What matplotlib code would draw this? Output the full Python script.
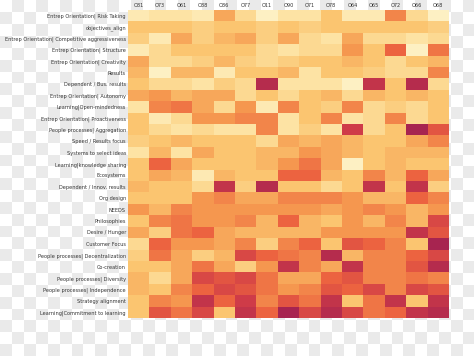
import numpy as np
import matplotlib
matplotlib.use("Agg")
import matplotlib.pyplot as plt
from matplotlib.colors import LinearSegmentedColormap

columns = ["O81", "O73", "O61", "O88", "O86", "O77", "O11", "O90",
           "O71", "O78", "O64", "O65", "O72", "O66", "O68"]

rows = [
    "Entrep Orientation| Risk Taking",
    "objectives_align",
    "Entrep Orientation| Competitive aggressiveness",
    "Entrep Orientation| Structure",
    "Entrep Orientation| Creativity",
    "Results",
    "Dependent / Bus. results",
    "Entrep Orientation| Autonomy",
    "Learning|Open-mindedness",
    "Entrep Orientation| Proactiveness",
    "People processes| Aggregation",
    "Speed / Results focus",
    "Systems to select ideas",
    "Learning|knowledge sharing",
    "Ecosystems",
    "Dependent / Innov. results",
    "Org design",
    "NEEDS",
    "Philosophies",
    "Desire / Hunger",
    "Customer Focus",
    "People processes| Decentralization",
    "Co-creation",
    "People processes| Diversity",
    "People processes| Independence",
    "Strategy alignment",
    "Learning|Commitment to learning",
]

# scores (0 = lightest, 10 = darkest)
scores = [
    [1, 1.5, 1.5, 1, 4, 2, 0.5, 1.5, 1.5, 3, 1, 1, 5, 2, 0.5],
    [3, 3, 3, 2.5, 3, 3, 2.5, 3, 2.5, 3, 3, 3, 3, 3, 2.5],
    [2.5, 1, 4, 2.5, 3.5, 4, 2.5, 4, 2, 1.5, 4, 2, 2, 1.5, 2],
    [1, 2, 3, 3, 3, 3, 2, 1.5, 2, 2, 4.5, 3, 6, 0.5, 5.5],
    [4, 2, 2, 2.5, 3.5, 2.5, 2, 2.5, 3, 3, 3.5, 3, 2, 3, 3.5],
    [3.5, 0.5, 3.5, 3.5, 1, 3, 3, 3.5, 1.5, 3, 3, 2.5, 2, 2, 5],
    [3, 2, 2, 1.5, 2.5, 2, 8.5, 1.5, 1.5, 1.5, 0.5, 8, 3, 8.5, 2],
    [4, 4.5, 3.5, 4, 4, 2, 3, 2, 3, 3.5, 2, 3.5, 3, 3.5, 3],
    [1.5, 5, 5.5, 4, 2, 4.5, 1, 5, 3, 2.5, 5, 2, 2.5, 2, 3],
    [3, 1, 2, 4.5, 4.5, 5, 5, 1.5, 3, 5, 1.5, 2, 5, 2, 3],
    [3, 2, 1.5, 2, 1.5, 1.5, 5, 1.5, 2.5, 1.5, 7.5, 2, 3, 9, 6.5],
    [2.5, 3, 3.5, 3, 3, 3, 2, 4, 3.5, 4, 3.5, 3, 3, 4, 5],
    [1.5, 3.5, 1.5, 4, 3, 3, 3.5, 3.5, 4.5, 4, 3.5, 3, 3.5, 3.5, 3.5],
    [3, 6, 4, 3, 3, 3, 3.5, 4.5, 5.5, 4, 0.5, 3, 3.5, 3, 3],
    [3, 4, 3.5, 1, 3.5, 3, 3, 6, 6, 3.5, 3, 5, 3.5, 6, 4],
    [3.5, 3, 3, 2, 8, 2.5, 8.5, 3, 3, 2, 3, 8, 3, 8, 2.5],
    [3, 3, 3, 4.5, 5, 4, 4, 5, 5, 5, 4.5, 3.5, 3.5, 6, 5],
    [4.5, 3.5, 5, 4.5, 4.5, 4.5, 4.5, 4.5, 4.5, 4, 4.5, 5, 4.5, 3.5, 4.5],
    [3, 5, 5.5, 4.5, 4.5, 5, 3.5, 6, 3.5, 3, 4.5, 3.5, 5, 3.5, 7],
    [4, 2.5, 5.5, 6, 4, 3.5, 3.5, 3.5, 3.5, 4.5, 4.5, 4.5, 4.5, 8, 6.5],
    [2, 6, 4.5, 4.5, 4, 5, 2.5, 5, 6, 3, 6.5, 6, 5, 3, 9],
    [2.5, 5.5, 4, 2.5, 3.5, 7, 6, 5.5, 5, 8.5, 3.5, 5, 5, 6, 7],
    [3, 3, 4, 5.5, 4, 2.5, 4.5, 8, 5, 4, 8, 5, 5, 6.5, 8.5],
    [3.5, 2, 4, 7, 6.5, 7, 5.5, 4, 4, 6, 6.5, 5, 5, 5.5, 5],
    [3.5, 3, 5, 6, 7, 6.5, 5.5, 4.5, 5, 6.5, 6, 7, 5, 7, 6.5],
    [3, 5, 4.5, 8, 6, 7.5, 5, 6.5, 5.5, 8, 3, 5.5, 8, 3, 8],
    [3, 6.5, 5.5, 7, 3, 8, 6, 9, 7, 8.5, 7, 5.5, 6, 8, 8.5],
]

cmap = LinearSegmentedColormap.from_list("warm", [
    (0.00, "#fef6d2"),
    (0.15, "#fde3a4"),
    (0.30, "#fbc570"),
    (0.45, "#f69850"),
    (0.60, "#ec6340"),
    (0.75, "#d03c48"),
    (0.90, "#a82550"),
    (1.00, "#7c1f55"),
])

fig = plt.figure(figsize=(4.74, 3.56), dpi=100)

# faint checkerboard backdrop
W, H, sq = 474, 356, 11.85
yy, xx = np.indices((H, W))
board = ((np.floor(xx / sq) + np.floor(yy / sq)) % 2)
bg = np.where(board[..., None] > 0, 0.92, 1.0) * np.ones((H, W, 3))
fig.figimage(bg, 0, 0, origin="upper", zorder=0)

ax = fig.add_axes([128 / 474, 1 - 318 / 356, 321 / 474, 308 / 356])
ax.set_zorder(2)
ax.patch.set_alpha(0)
ax.imshow(np.array(scores), cmap=cmap, vmin=0, vmax=10,
          aspect="auto", interpolation="nearest")

ax.set_xticks(range(len(columns)))
ax.set_xticklabels(columns, fontsize=3.6, color="#333333")
ax.xaxis.tick_top()
ax.set_yticks(range(len(rows)))
ax.set_yticklabels(rows, fontsize=3.6, color="#333333")
ax.tick_params(length=0, pad=1.5)
for s in ax.spines.values():
    s.set_visible(False)

fig.savefig("out.png", dpi=100)
